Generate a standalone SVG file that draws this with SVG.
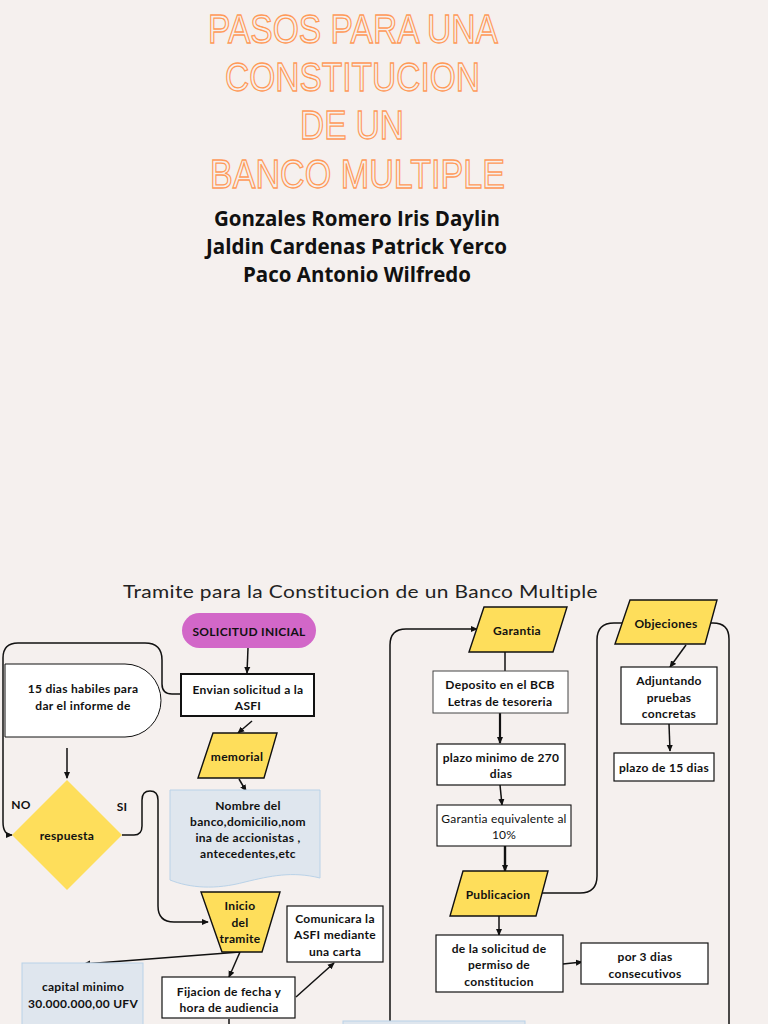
<svg xmlns="http://www.w3.org/2000/svg" width="768" height="1024" viewBox="0 0 768 1024">
<defs>
<marker id="ah" viewBox="0 0 8 8" refX="7" refY="4" markerWidth="7" markerHeight="7" markerUnits="userSpaceOnUse" orient="auto">
<path d="M0,0.5 L8,4 L0,7.5 Z" fill="#111"/>
</marker>
<style>
.title{font-family:"Liberation Sans",sans-serif;font-size:40px;fill:#f5f0ee;stroke:#ff9a58;stroke-width:1.3px;text-anchor:start}
.name{font-family:"Open Sans",sans-serif;font-weight:700;font-size:21px;fill:#111}
.sub{font-family:"Lato","Liberation Sans",sans-serif;font-size:17px;fill:#222;letter-spacing:0.3px}
.t{font-family:"Lato","Liberation Sans",sans-serif;font-weight:700;font-size:12px;letter-spacing:0.3px;fill:#111;text-anchor:middle;dominant-baseline:central}
.tr{font-family:"Lato","Liberation Sans",sans-serif;font-weight:400;font-size:12px;letter-spacing:0.2px;fill:#111;text-anchor:middle;dominant-baseline:central}
.box{fill:#fff;stroke:#111;stroke-width:1.6}
.thin{fill:#fff;stroke:#444;stroke-width:1}
.yel{fill:#fede5b;stroke:#111;stroke-width:1.4}
.blue{fill:#dfe6ee;stroke:#b9d2e8;stroke-width:1}
.c{fill:none;stroke:#111;stroke-width:1.5}
.ca{fill:none;stroke:#111;stroke-width:1.5;marker-end:url(#ah)}
</style>
</defs>
<rect width="768" height="1024" fill="#f5f0ee"/>

<g id="title">
<text class="title" x="208" y="43" textLength="290" lengthAdjust="spacingAndGlyphs">PASOS PARA UNA</text>
<text class="title" x="225" y="91" textLength="255" lengthAdjust="spacingAndGlyphs">CONSTITUCION</text>
<text class="title" x="300" y="139" textLength="104" lengthAdjust="spacingAndGlyphs">DE UN</text>
<text class="title" x="210" y="188" textLength="295" lengthAdjust="spacingAndGlyphs">BANCO MULTIPLE</text>
</g>
<g id="names">
<text class="name" x="214" y="226" textLength="286" lengthAdjust="spacingAndGlyphs">Gonzales Romero Iris Daylin</text>
<text class="name" x="206" y="254" textLength="301" lengthAdjust="spacingAndGlyphs">Jaldin Cardenas Patrick Yerco</text>
<text class="name" x="243" y="282" textLength="228" lengthAdjust="spacingAndGlyphs">Paco Antonio Wilfredo</text>
</g>
<text class="sub" x="123" y="598" textLength="475" lengthAdjust="spacingAndGlyphs">Tramite para la Constitucion de un Banco Multiple</text>

<g id="connectors">
<path class="ca" d="M248 648 L247 673"/>
<path class="ca" d="M181 694 H172 Q162 694 162 684 V660 Q162 643 145 643 H18 Q3 643 3 658 V822 Q3 835 12 835"/>
<path class="ca" d="M67 748 V778"/>
<path class="ca" d="M252 721 L238 733"/>
<path class="ca" d="M239 779 L246 791"/>
<path class="ca" d="M122 835 H134 Q142 835 142 826 V800 Q142 791 150 791 Q158 791 158 800 V906 Q158 922 174 922 H208"/>
<path class="ca" d="M240 952 L84 964"/>
<path class="ca" d="M240 952 L229 977"/>
<path class="ca" d="M296 997 L334 963"/>
<path class="c" d="M229 1019 V1024"/>
<path class="ca" d="M390 1024 V645 Q390 629 406 629 H477"/>
<path class="c" d="M505 652 V672"/>
<path class="ca" d="M500 713 V743" style="stroke-width:2.2"/>
<path class="ca" d="M500 785 L502 805"/>
<path class="ca" d="M505 846 V871" style="stroke-width:2.4"/>
<path class="ca" d="M499 916 V935"/>
<path class="ca" d="M563 964 L582 962"/>
<path class="c" d="M542 893 H580 Q597 893 597 876 V640 Q597 623 614 623 H628"/>
<path class="c" d="M711 623 H713 Q729 623 729 639 V1024"/>
<path class="ca" d="M686 645 L670 667"/>
<path class="ca" d="M669 724 L670 751"/>
</g>

<g id="solicitud"><rect x="182" y="613" width="134" height="35" rx="17.5" fill="#d267c8"/><text class="t" x="249" y="631">SOLICITUD INICIAL</text></g>
<g id="envian"><rect class="box" x="181" y="674" width="133" height="42" style="stroke-width:2"/><text class="t" x="248" y="689">Envian solicitud a la</text><text class="t" x="248" y="705">ASFI</text></g>
<g id="dias15"><path d="M5 664 H125 A36 36.5 0 0 1 125 737 H5 Z" fill="#fff" stroke="#111" stroke-width="1"/><text class="t" x="83" y="688">15 dias habiles para</text><text class="t" x="83" y="705">dar el informe de</text></g>
<g id="respuesta"><path d="M67 780 L122 835 L67 890 L12 835 Z" fill="#fede5b"/><text class="t" x="67" y="835">respuesta</text></g>
<text class="t" x="21" y="804">NO</text>
<text class="t" x="122" y="806">SI</text>
<g id="memorial"><path class="yel" d="M213 733 H277 L264 778 H198 Z"/><text class="t" x="237" y="756">memorial</text></g>
<g id="nombre"><path class="blue" d="M170 790 H320 V878 C 292 871, 270 876, 245 882 C 215 890, 190 888, 170 880 Z"/><text class="t" x="248" y="805">Nombre del</text><text class="t" x="248" y="821">banco,domicilio,nom</text><text class="t" x="248" y="837">ina de accionistas ,</text><text class="t" x="248" y="853">antecedentes,etc</text></g>
<g id="inicio"><path class="yel" d="M201 892 H280 L262 952 H222 Z"/><text class="t" x="240" y="905">Inicio</text><text class="t" x="240" y="922">del</text><text class="t" x="240" y="938">tramite</text></g>
<g id="comunicara"><rect class="box" x="287" y="906" width="96" height="56" style="stroke-width:1.2"/><text class="t" x="335" y="918">Comunicara la</text><text class="t" x="335" y="934">ASFI mediante</text><text class="t" x="335" y="951">una carta</text></g>
<g id="fijacion"><rect class="box" x="162" y="977" width="133" height="41" style="stroke-width:1.2"/><text class="t" x="229" y="991">Fijacion de fecha y</text><text class="t" x="229" y="1007">hora de audiencia</text></g>
<g id="capital"><rect class="blue" x="22" y="963" width="121" height="70"/><text class="t" x="83" y="986">capital minimo</text><text class="t" x="83" y="1003">30.000.000,00 UFV</text></g>
<g id="bottomdoc"><rect class="blue" x="343" y="1021" width="182" height="10"/></g>

<g id="garantia"><path class="yel" d="M484 607 H567 L553 652 H469 Z"/><text class="t" x="517" y="630">Garantia</text></g>
<g id="deposito"><rect class="thin" x="433" y="671" width="135" height="42"/><text class="t" x="500" y="684">Deposito en el BCB</text><text class="t" x="500" y="701">Letras de tesoreria</text></g>
<g id="plazo270"><rect class="box" x="437" y="744" width="128" height="41" style="stroke-width:1.2"/><text class="t" x="501" y="757">plazo minimo de 270</text><text class="t" x="501" y="773">dias</text></g>
<g id="garantia10"><rect class="box" x="437" y="805" width="134" height="41" style="stroke-width:1.1"/><text class="tr" x="504" y="818">Garantia equivalente al</text><text class="tr" x="504" y="834">10%</text></g>
<g id="publicacion"><path class="yel" d="M463 871 H548 L536 916 H450 Z"/><text class="t" x="498" y="894">Publicacion</text></g>
<g id="delasolicitud"><rect class="box" x="436" y="935" width="127" height="57" style="stroke-width:1.2"/><text class="t" x="499" y="948">de la solicitud de</text><text class="t" x="499" y="964">permiso de</text><text class="t" x="499" y="981">constitucion</text></g>
<g id="por3"><rect class="box" x="581" y="943" width="127" height="41" style="stroke-width:1.2"/><text class="t" x="645" y="956">por 3 dias</text><text class="t" x="645" y="973">consecutivos</text></g>
<g id="objeciones"><path class="yel" d="M630 600 H717 L705 644 H615 Z"/><text class="t" x="666" y="623">Objeciones</text></g>
<g id="adjuntando"><rect class="box" x="621" y="667" width="96" height="57" style="stroke-width:1.2"/><text class="t" x="669" y="680">Adjuntando</text><text class="t" x="669" y="697">pruebas</text><text class="t" x="669" y="713">concretas</text></g>
<g id="plazo15"><rect class="box" x="614" y="753" width="100" height="28" style="stroke-width:1.2"/><text class="t" x="664" y="767">plazo de 15 dias</text></g>
</svg>
